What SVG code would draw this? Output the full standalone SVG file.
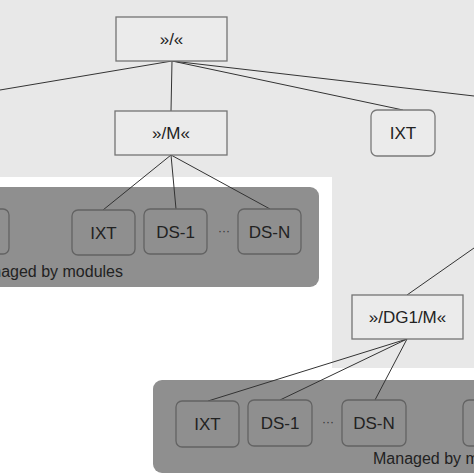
<svg xmlns="http://www.w3.org/2000/svg" width="474" height="474" viewBox="0 0 474 474">
<style>
.bg{fill:#e8e8e8}
.panel{fill:#8f8f8f}
.box{fill:#ebebeb;stroke:#737373;stroke-width:1.3}
.rbox{fill:#ebebeb;stroke:#7a7a7a;stroke-width:1.3}
.mod{fill:#8f8f8f;stroke:#636363;stroke-width:1.3}
.lbl{font-family:"Liberation Sans",Arial,sans-serif;font-size:17px;fill:#222;text-anchor:middle}
.cap{font-family:"Liberation Sans",Arial,sans-serif;font-size:16px;fill:#222}
.dots{font-family:"Liberation Sans",Arial,sans-serif;font-size:12px;fill:#333;text-anchor:middle}
.conn line{stroke:#333;stroke-width:1}
</style>
<rect width="474" height="474" fill="#ffffff"/>
<path class="bg" d="M0 0H474V368H332V177H0Z"/>
<rect class="panel" x="-20" y="187" width="339" height="100" rx="9"/>
<rect class="panel" x="153" y="380" width="340" height="93" rx="9"/>
<g class="conn">
<line x1="172" y1="61" x2="0" y2="90"/>
<line x1="172" y1="61" x2="171" y2="111"/>
<line x1="172" y1="61" x2="403" y2="110"/>
<line x1="172" y1="61" x2="474" y2="96"/>
<line x1="171" y1="155" x2="103" y2="210"/>
<line x1="171" y1="155" x2="176" y2="209"/>
<line x1="171" y1="155" x2="270" y2="209"/>
<line x1="474" y1="248" x2="407" y2="295"/>
<line x1="407" y1="339" x2="208" y2="401"/>
<line x1="407" y1="339" x2="280" y2="400"/>
<line x1="407" y1="339" x2="375" y2="400"/>
</g>
<g id="root"><rect class="box" x="116" y="17" width="111" height="44"/><text class="lbl" x="171.5" y="45">»/«</text></g>
<g id="m"><rect class="box" x="115" y="111" width="112" height="44"/><text class="lbl" x="171" y="139">»/M«</text></g>
<g id="ixt-top"><rect class="rbox" x="371" y="110" width="64" height="46" rx="6"/><text class="lbl" x="403" y="139">IXT</text></g>
<g id="p1-partial"><rect class="mod" x="-55" y="209" width="64" height="45" rx="6"/></g>
<g id="p1-ixt"><rect class="mod" x="72" y="210" width="63" height="45" rx="6"/><text class="lbl" x="103.5" y="238.5">IXT</text></g>
<g id="p1-ds1"><rect class="mod" x="144" y="209" width="63" height="45" rx="6"/><text class="lbl" x="175.5" y="237.5">DS-1</text></g>
<text class="dots" x="224" y="235">···</text>
<g id="p1-dsn"><rect class="mod" x="238" y="209" width="63" height="45" rx="6"/><text class="lbl" x="269.5" y="237.5">DS-N</text></g>
<text class="cap" x="-30" y="277">Managed by modules</text>
<g id="dg1m"><rect class="box" x="352" y="295" width="111" height="44"/><text class="lbl" x="407.5" y="323">»/DG1/M«</text></g>
<g id="p2-ixt"><rect class="mod" x="176" y="401" width="63" height="46" rx="6"/><text class="lbl" x="207.5" y="430">IXT</text></g>
<g id="p2-ds1"><rect class="mod" x="248" y="400" width="64" height="46" rx="6"/><text class="lbl" x="280" y="429">DS-1</text></g>
<text class="dots" x="328" y="426">···</text>
<g id="p2-dsn"><rect class="mod" x="342" y="400" width="64" height="46" rx="6"/><text class="lbl" x="374" y="429">DS-N</text></g>
<g id="p2-partial"><rect class="mod" x="463" y="400" width="64" height="46" rx="6"/></g>
<text class="cap" x="373" y="464">Managed by modules</text>
</svg>
